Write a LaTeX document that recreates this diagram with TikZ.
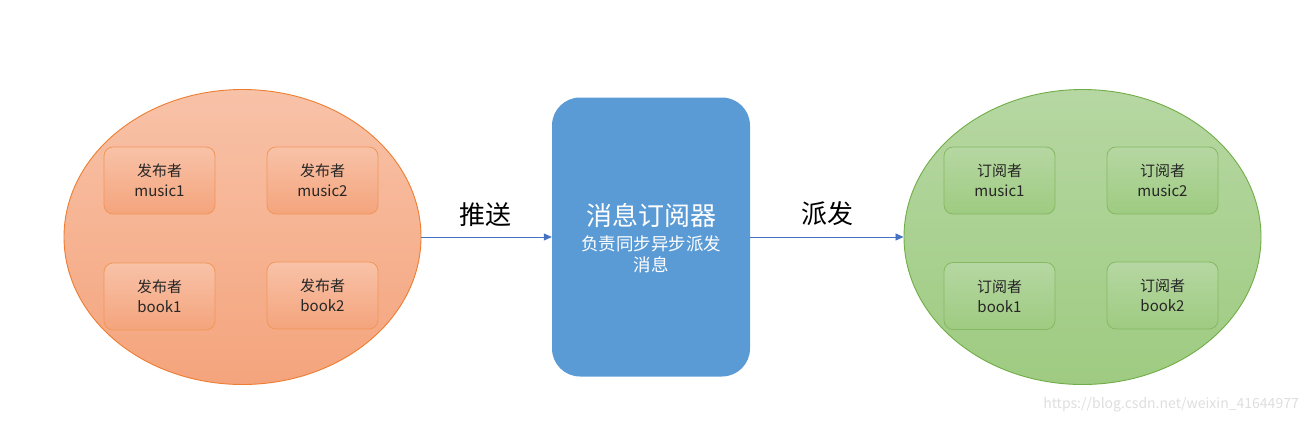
\documentclass[tikz,border=0pt]{standalone}
\usepackage{fontspec}
\setmainfont{Noto Sans CJK SC}
\usetikzlibrary{arrows.meta,shapes.geometric}
\definecolor{orline}{HTML}{ED7D31}
\definecolor{ortop}{HTML}{F8C2A8}
\definecolor{orbot}{HTML}{F4A47C}
\definecolor{grline}{HTML}{70AD47}
\definecolor{grtop}{HTML}{B6D7A2}
\definecolor{grbot}{HTML}{9ECB81}
\definecolor{bluebox}{HTML}{5B9BD5}
\definecolor{arrowc}{HTML}{4472C4}
\definecolor{txt}{HTML}{262626}
\tikzset{
  orell/.style={ellipse, draw=orline, line width=0.9pt, top color=ortop, bottom color=orbot, minimum width=357pt, minimum height=295pt, inner sep=0pt},
  grell/.style={ellipse, draw=grline, line width=0.9pt, top color=grtop, bottom color=grbot, minimum width=357pt, minimum height=295pt, inner sep=0pt},
  orbox/.style={draw=orline!80!white, line width=0.8pt, rounded corners=9pt, top color=ortop, bottom color=orbot, minimum width=111pt, minimum height=67pt, inner sep=0pt, align=center, text=txt, font=\fontsize{15}{20}\selectfont},
  grbox/.style={draw=grline!85!white, line width=0.8pt, rounded corners=9pt, top color=grtop, bottom color=grbot, minimum width=111pt, minimum height=67pt, inner sep=0pt, align=center, text=txt, font=\fontsize{15}{20}\selectfont},
  hub/.style={fill=bluebox, rounded corners=28pt, minimum width=198pt, minimum height=279pt, inner sep=0pt},
  conn/.style={draw=arrowc, line width=0.8pt, -{Triangle[length=8pt,width=7pt]}},
  lbl/.style={font=\fontsize{26}{30}\selectfont, text=black, inner sep=0pt}
}
\begin{document}
\begin{tikzpicture}[x=1pt,y=-1pt]
\useasboundingbox (0,0) rectangle (1309,424);
% left ellipse
\node[orell] (L) at (242.5,237) {};
\node[orbox] (p1) at (159.5,180.5) {发布者\\music1};
\node[orbox] (p2) at (322.5,180.5) {发布者\\music2};
\node[orbox] (p3) at (159.5,296.5) {发布者\\book1};
\node[orbox] (p4) at (322.5,295.5) {发布者\\book2};
% center
\node[hub] (C) at (651,237) {};
\node[text=white, font=\fontsize{26}{30}\selectfont, inner sep=0pt] (ct) at (651,215) {消息订阅器};
\node[text=white, font=\fontsize{17.5}{21}\selectfont, align=center, inner sep=0pt] (cs) at (651,254) {负责同步异步派发\\消息};
% right ellipse
\node[grell] (R) at (1082.5,237) {};
\node[grbox] (s1) at (999.5,180.5) {订阅者\\music1};
\node[grbox] (s2) at (1162.5,180.5) {订阅者\\music2};
\node[grbox] (s3) at (999.5,296) {订阅者\\book1};
\node[grbox] (s4) at (1162.5,295.5) {订阅者\\book2};
% connectors
\draw[conn] (L.east) -- (C.west);
\draw[conn] (C.east) -- (R.west);
\node[lbl] (a1) at (485,215) {推送};
\node[lbl] (a2) at (827,214) {派发};
% watermark
\node[anchor=east, text=black!13, font=\fontsize{14}{16}\selectfont, inner sep=0pt] (wm) at (1299,405) {https://blog.csdn.net/weixin\_41644977};
\end{tikzpicture}
\end{document}
